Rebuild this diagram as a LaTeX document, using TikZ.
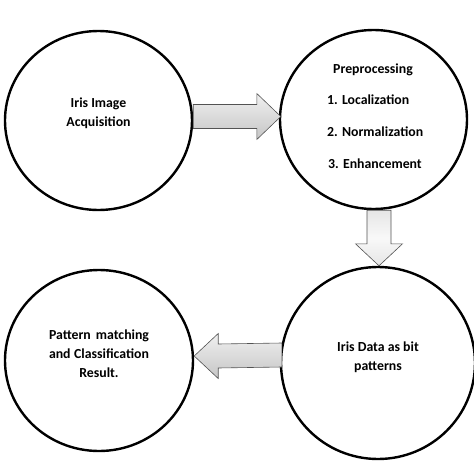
\documentclass[tikz,border=0pt]{standalone}
\usepackage{fontspec}
\setmainfont{Carlito}
\usetikzlibrary{shapes.geometric,calc}

\tikzset{
  stage/.style={ellipse, draw, line width=2.4pt, inner sep=0pt},
  caption/.style={font=\fontsize{13.8}{19}\selectfont\bfseries, align=center, inner sep=0pt},
  blockarrow/.style={draw=gray!65!black, line width=0.6pt, line join=miter,
    top color=gray!12, bottom color=gray!45},
}

\begin{document}
\begin{tikzpicture}[x=1pt, y=-1pt]
    \useasboundingbox (0,0) rectangle (474,474);

    % the four stages
    \node [stage, minimum width=187pt, minimum height=179pt] (acq) at (98.5,120.5) {};
    \node [stage, minimum width=187pt, minimum height=179pt] (prep) at (373.5,119.5) {};
    \node [stage, minimum width=194pt, minimum height=192pt] (data) at (378,363) {};
    \node [stage, minimum width=188pt, minimum height=181pt] (result) at (99,360.5) {};

    % texts
    \node [caption] (acqtext) at ($(acq.center)+(0,-7.5)$) {Iris Image\\Acquisition};
    \node [caption] (preptitle) at (373,70) {Preprocessing};
    \node [caption, anchor=west] (prepone) at (327,100) {1. Localization};
    \node [caption, anchor=west] (preptwo) at (327,132) {2. Normalization};
    \node [caption, anchor=west] (prepthree) at (328,164) {3. Enhancement};
    \node [caption] (datatext) at ($(data.center)+(0,-6)$) {Iris Data as bit\\patterns};
    \node [caption] (resulttext) at ($(result.center)+(0,-7)$)
        {\makebox[100pt][s]{Pattern matching}\\\makebox[100pt][s]{and Classification}\\Result.};

    % block arrows
    \coordinate (a1s) at ($(acq.east)+(0,-4)$);
    \coordinate (a1t) at ($(prep.west)+(2,-3)$);
    \draw [blockarrow] ($(a1s)+(0,-12)$) -- ($(a1t)+(-24,-12)$) -- ($(a1t)+(-24,-23)$) -- (a1t)
        -- ($(a1t)+(-24,23)$) -- ($(a1t)+(-24,12)$) -- ($(a1s)+(0,12)$) -- cycle;

    \coordinate (a2s) at ($(prep.south)+(5.5,0)$);
    \coordinate (a2t) at ($(data.north)+(1,0)$);
    \draw [blockarrow, top color=gray!20, bottom color=gray!20, middle color=gray!5]
        ($(a2s)+(-12,0)$) -- ($(a2t)+(-12,-22)$) -- ($(a2t)+(-23.5,-22)$) -- (a2t)
        -- ($(a2t)+(23.5,-22)$) -- ($(a2t)+(12,-22)$) -- ($(a2s)+(12,0)$) -- cycle;

    \coordinate (a3s) at ($(data.west)+(2,-8)$);
    \coordinate (a3t) at ($(result.east)+(0,-4.5)$);
    \draw [blockarrow] ($(a3s)+(0,-12)$) -- ($(a3t)+(24,-12)$) -- ($(a3t)+(24,-22.5)$) -- (a3t)
        -- ($(a3t)+(24,22.5)$) -- ($(a3t)+(24,12)$) -- ($(a3s)+(0,12)$) -- cycle;
\end{tikzpicture}
\end{document}
